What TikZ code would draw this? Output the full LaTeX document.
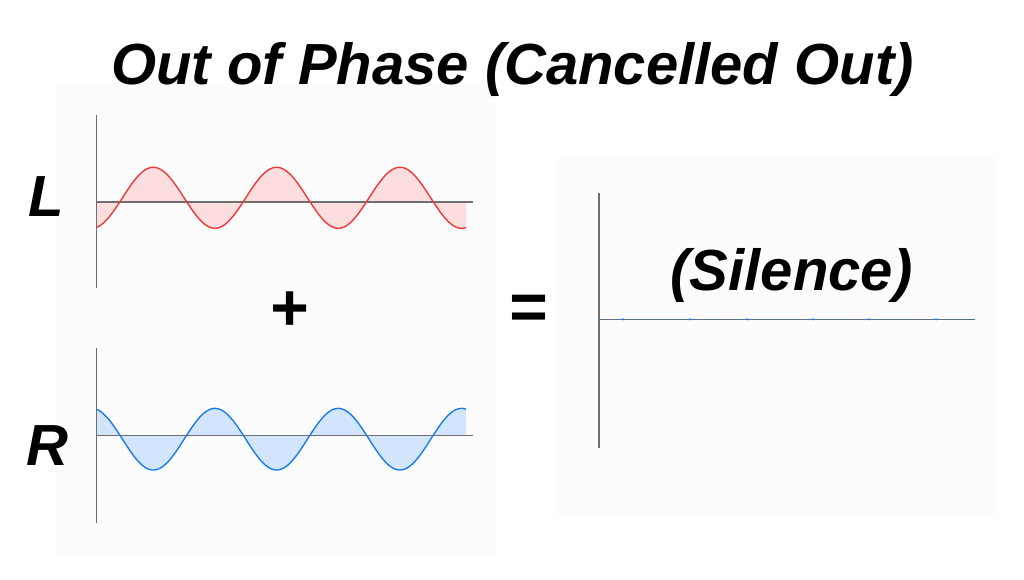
\documentclass[tikz,border=0pt]{standalone}
\usepackage{fontspec}
\setmainfont{Liberation Sans}
\usetikzlibrary{positioning}
\definecolor{wavered}{HTML}{F03A3A}
\definecolor{redfill}{HTML}{FDDEDE}
\definecolor{waveblue}{HTML}{1C7DEA}
\definecolor{bluefill}{HTML}{D2E5FC}
\definecolor{axisgray}{HTML}{6E6E6E}
\definecolor{silentaxis}{HTML}{5C6F88}
\definecolor{panelbg}{HTML}{FCFCFC}
\begin{document}
\begin{tikzpicture}[
  x=1pt, y=1pt,
  axisline/.style={draw=axisgray, line width=1.4pt},
  redwave/.style={draw=wavered, line width=1.4pt},
  bluewave/.style={draw=waveblue, line width=1.4pt},
  bigtext/.style={font=\fontsize{58}{60}\selectfont\bfseries\itshape, inner sep=0pt, anchor=base},
  signtext/.style={font=\fontsize{66}{66}\selectfont\bfseries\itshape, inner sep=0pt, anchor=center},
  sidelabel/.style={font=\fontsize{58}{60}\selectfont\bfseries\itshape, inner sep=0pt, anchor=base},
  panel/.style={fill=panelbg, draw=none}
]
  \useasboundingbox (0,0) rectangle (1024,579);

  % =========================================================================
  % BACKGROUND PANELS
  % =========================================================================
  \fill[panel] (55,23) rectangle (496,496);
  \fill[panel] (557,63) rectangle (996,422);

  % Title
  \node[bigtext] (title) at (512.5,494) {Out of Phase (Cancelled Out)};

  % =========================================================================
  % LEFT CHANNEL (L)
  % =========================================================================
  \coordinate (l_top) at (96.5,464);
  \coordinate (l_bot) at (96.5,291);
  \coordinate (l_org) at (96.5,377);
  \coordinate (l_end) at (473,377);
  \fill[redfill] (96.5,377) -- plot[domain=96.5:466, samples=240]
    (\x, {381.2 + 30.5*cos(2.91971*(\x-153.3))}) -- (466,377) -- cycle;
  \draw[axisline] (l_top) -- (l_bot);
  \draw[axisline] (l_org) -- (l_end);
  \draw[redwave] plot[domain=96.5:466, samples=240]
    (\x, {381.2 + 30.5*cos(2.91971*(\x-153.3))});
  \node[sidelabel] (lab_l) at (46,362.3) {L};

  % plus sign
  \node[signtext] (plus) at (289,268) {+};

  % =========================================================================
  % RIGHT CHANNEL (R)
  % =========================================================================
  \coordinate (r_top) at (96.5,231);
  \coordinate (r_bot) at (96.5,56);
  \coordinate (r_org) at (96.5,143.3);
  \coordinate (r_end) at (473,143.3);
  \fill[bluefill] (96.5,143.3) -- plot[domain=96.5:466, samples=240]
    (\x, {139.8 - 30.8*cos(2.91971*(\x-153.3))}) -- (466,143.3) -- cycle;
  \draw[axisline] (r_top) -- (r_bot);
  \draw[axisline] (r_org) -- (r_end);
  \draw[bluewave] plot[domain=96.5:466, samples=240]
    (\x, {139.8 - 30.8*cos(2.91971*(\x-153.3))});
  \node[sidelabel] (lab_r) at (47,114) {R};

  % equals sign
  \node[signtext] (equals) at (527.5,266.5) {=};

  % =========================================================================
  % SUM: SILENCE
  % =========================================================================
  \coordinate (s_top) at (599,386);
  \coordinate (s_bot) at (599,131);
  \coordinate (s_org) at (599,259.7);
  \coordinate (s_end) at (975,259.7);
  \draw[axisline] (s_top) -- (s_bot);
  \draw[draw=silentaxis, line width=1.4pt] (s_org) -- (s_end);
  \foreach \dx in {623,690,747,813,869,936}
    \fill[waveblue] (\dx,259.7) circle (1.2pt);
  \node[sidelabel] (silence) at (791.5,289) {(Silence)};

\end{tikzpicture}
\end{document}
